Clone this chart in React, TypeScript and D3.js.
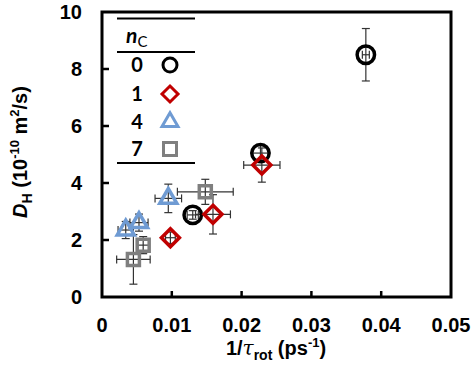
import React from "react";
import * as d3 from "d3";

const xTicks = [0, 0.01, 0.02, 0.03, 0.04, 0.05];
const xTickLabels = ["0", "0.01", "0.02", "0.03", "0.04", "0.05"];
const yTicks = [0, 2, 4, 6, 8, 10];
const yTickLabels = ["0", "2", "4", "6", "8", "10"];

const legendLabels = ["0", "1", "4", "7"];

// n_C = 0 (circles)
const x0 = [0.0378, 0.0227, 0.013];
const y0 = [8.5, 5.05, 2.88];
const xe0 = [0.0005, 0.0012, 0.0008];
const ye0 = [0.92, 0.3, 0.15];
// n_C = 1 (diamonds)
const x1 = [0.0229, 0.0159, 0.0098];
const y1 = [4.63, 2.9, 2.08];
const xe1 = [0.0026, 0.0025, 0.0007];
const ye1 = [0.6, 0.69, 0.2];
// n_C = 4 (triangles)
const x4 = [0.0095, 0.0053, 0.0034];
const y4 = [3.46, 2.61, 2.35];
const xe4 = [0.0019, 0.0013, 0.0011];
const ye4 = [0.5, 0.3, 0.3];
// n_C = 7 (squares)
const x7 = [0.0148, 0.0059, 0.0045];
const y7 = [3.69, 1.82, 1.32];
const xe7 = [0.004, 0.0008, 0.0024];
const ye7 = [0.44, 0.3, 0.87];

const W = 474;
const H = 377;
const L = 102, R = 451, T = 12, B = 297;
const FONT = "'Liberation Sans', Arial, sans-serif";
const LFONT = "Lato, 'Liberation Sans', sans-serif";

function shapePath(kind: string, cx: number, cy: number, s: number): string {
  const p = d3.path();
  if (kind === "circle") {
    p.moveTo(cx + s, cy);
    p.arc(cx, cy, s, 0, Math.PI * 2);
  } else if (kind === "diamond") {
    p.moveTo(cx, cy - s);
    p.lineTo(cx + s, cy);
    p.lineTo(cx, cy + s);
    p.lineTo(cx - s, cy);
    p.closePath();
  } else if (kind === "triangle") {
    const h = s * Math.sqrt(3) / 2;
    p.moveTo(cx, cy - (2 * h) / 3);
    p.lineTo(cx + s / 2, cy + h / 3);
    p.lineTo(cx - s / 2, cy + h / 3);
    p.closePath();
  } else {
    p.rect(cx - s / 2, cy - s / 2, s, s);
  }
  return p.toString();
}

const series = [
  { kind: "circle", color: "#000000", xs: x0, ys: y0, xe: xe0, ye: ye0, size: 8.7, lsize: 7 },
  { kind: "diamond", color: "#C00000", xs: x1, ys: y1, xe: xe1, ye: ye1, size: 9, lsize: 8 },
  { kind: "triangle", color: "#6F9BD3", xs: x4, ys: y4, xe: xe4, ye: ye4, size: 17, lsize: 16 },
  { kind: "square", color: "#7F7F7F", xs: x7, ys: y7, xe: xe7, ye: ye7, size: 12, lsize: 13 },
];

export default function App() {
  const x = d3.scaleLinear().domain([0, 0.05]).range([L, R]);
  const y = d3.scaleLinear().domain([0, 10]).range([B, T]);
  const cap = 4;
  const ebColor = "#333333";

  const legendRowsY = [65, 94, 122, 149];

  return (
    <svg width={W} height={H} style={{ position: "absolute", left: 0, top: 0, background: "#fff" }}>
      {/* error bars */}
      {series.map((s, si) =>
        s.xs.map((xv, i) => {
          const cx = x(xv), cy = y(s.ys[i]);
          const xl = x(xv - s.xe[i]), xr = x(xv + s.xe[i]);
          const yt = y(s.ys[i] + s.ye[i]), yb = y(s.ys[i] - s.ye[i]);
          return (
            <g key={`eb${si}-${i}`} stroke={ebColor} strokeWidth={1.2}>
              <line x1={xl} x2={xr} y1={cy} y2={cy} />
              <line x1={xl} x2={xl} y1={cy - cap} y2={cy + cap} />
              <line x1={xr} x2={xr} y1={cy - cap} y2={cy + cap} />
              <line x1={cx} x2={cx} y1={yt} y2={yb} />
              <line x1={cx - cap} x2={cx + cap} y1={yt} y2={yt} />
              <line x1={cx - cap} x2={cx + cap} y1={yb} y2={yb} />
            </g>
          );
        })
      )}
      {/* markers */}
      {series.map((s, si) =>
        s.xs.map((xv, i) => (
          <path
            key={`m${si}-${i}`}
            d={shapePath(s.kind, x(xv), y(s.ys[i]), s.size)}
            fill="none"
            stroke={s.color}
            strokeWidth={3.5}
          />
        ))
      )}

      {/* frame */}
      <rect x={L} y={T} width={R - L} height={B - T} fill="none" stroke="#000" strokeWidth={3} />
      {/* ticks */}
      {yTicks.slice(1, -1).map((t) => (
        <line key={`yt${t}`} x1={L} x2={L + 7} y1={y(t)} y2={y(t)} stroke="#000" strokeWidth={2.5} />
      ))}
      {xTicks.slice(1, -1).map((t) => (
        <line key={`xt${t}`} x1={x(t)} x2={x(t)} y1={B} y2={B - 6} stroke="#000" strokeWidth={2.5} />
      ))}
      {/* tick labels */}
      {yTicks.map((t, i) => (
        <text key={`yl${t}`} x={82} y={y(t)} dy="0.36em" textAnchor="end" fontFamily={FONT} fontWeight="bold" fontSize={20}>
          {yTickLabels[i]}
        </text>
      ))}
      {xTicks.map((t, i) => (
        <text key={`xl${t}`} x={x(t)} y={332} textAnchor="middle" fontFamily={FONT} fontWeight="bold" fontSize={20}>
          {xTickLabels[i]}
        </text>
      ))}

      {/* axis titles */}
      <text x={276} y={355} textAnchor="middle" fontFamily={FONT} fontWeight="bold" fontSize={20}>
        <tspan>1/</tspan>
        <tspan fontFamily="'DejaVu Serif', serif" fontStyle="italic" fontWeight="normal">τ</tspan>
        <tspan fontSize={14} dy={5}>rot</tspan>
        <tspan dy={-5}> (ps</tspan>
        <tspan fontSize={13} dy={-8}>-1</tspan>
        <tspan dy={8}>)</tspan>
      </text>
      <text transform={`translate(27,152) rotate(-90)`} textAnchor="middle" fontFamily={FONT} fontWeight="bold" fontSize={20}>
        <tspan fontStyle="italic">D</tspan>
        <tspan fontSize={14} dy={5}>H</tspan>
        <tspan dy={-5}> (10</tspan>
        <tspan fontSize={13} dy={-8}>-10</tspan>
        <tspan dy={8}> m</tspan>
        <tspan fontSize={13} dy={-8}>2</tspan>
        <tspan dy={8}>/s)</tspan>
      </text>

      {/* legend */}
      <line x1={117} x2={195} y1={18.5} y2={18.5} stroke="#000" strokeWidth={2} />
      <line x1={117} x2={195} y1={52} y2={52} stroke="#000" strokeWidth={2} />
      <line x1={117} x2={195} y1={163} y2={163} stroke="#000" strokeWidth={2} />
      <text x={126} y={43} fontFamily={LFONT} fontWeight="bold" fontSize={21}>
        <tspan fontStyle="italic">n</tspan>
        <tspan fontSize={15} fontWeight="normal" dy={4}>C</tspan>
      </text>
      {legendLabels.map((lab, i) => (
        <g key={`lg${i}`}>
          <text x={137} y={legendRowsY[i]} dy="0.36em" textAnchor="middle" fontFamily={LFONT} fontWeight="bold" fontSize={20}>
            {lab}
          </text>
          <path d={shapePath(series[i].kind, 170, legendRowsY[i], series[i].lsize)} fill="none" stroke={series[i].color} strokeWidth={3} />
        </g>
      ))}
    </svg>
  );
}
